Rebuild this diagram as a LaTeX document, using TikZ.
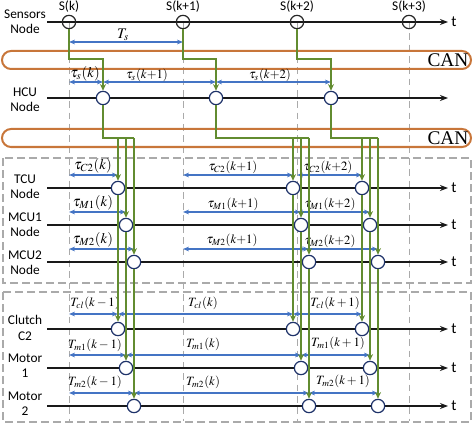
\documentclass[tikz,border=0pt]{standalone}
\usepackage{mathptmx}
\usepackage[no-math]{fontspec}
\setmainfont{Carlito}
\newfontfamily\canfont{Liberation Serif}
\usetikzlibrary{arrows.meta,calc}
\definecolor{canor}{RGB}{200,118,58}
\definecolor{grn}{RGB}{98,140,48}
\definecolor{blu}{RGB}{68,116,196}
\definecolor{navy}{RGB}{30,50,105}
\definecolor{dgrey}{RGB}{170,170,170}
\pgfdeclarelayer{bg}
\pgfsetlayers{bg,main}
\tikzset{
  lab/.style={font=\fontsize{10}{11.5}\selectfont, align=center, inner sep=0pt},
  mlab/.style={font=\fontsize{11}{12}\selectfont, inner sep=0pt},
  smlab/.style={font=\fontsize{9.5}{11}\selectfont, inner sep=0pt},
  cantext/.style={font=\canfont\fontsize{14.5}{15}\selectfont, inner sep=0pt},
  sensc/.style={circle, draw=black!85, line width=0.9pt, minimum size=10pt, inner sep=0pt},
  evc/.style={circle, draw=navy, fill=white, line width=0.9pt, minimum size=10pt, inner sep=0pt},
  busbox/.style={draw=canor, line width=1.5pt, rounded corners=6.75pt, minimum width=351.75pt, minimum height=13.5pt, inner sep=0pt},
  tline/.style={line width=1.1pt, black!90, -{Stealth[length=6pt,width=4.5pt]}},
  dv/.style={dgrey, line width=0.7pt, dash pattern=on 5pt off 3.5pt},
  dbox/.style={dgrey, line width=0.9pt, dash pattern=on 6pt off 3pt},
  bl/.style={blu, line width=0.8pt, {Stealth[length=4.5pt,width=3.5pt]}-{Stealth[length=4.5pt,width=3.5pt]}},
  gr/.style={grn, line width=1.5pt},
  gra/.style={grn, line width=1.5pt, -{Stealth[length=5pt,width=4.5pt]}},
}
\begin{document}
\begin{tikzpicture}[x=0.75pt,y=-0.75pt]
\useasboundingbox (0,0) rectangle (474,424);
% helper coordinates
\coordinate (bus1) at (0,59);
\coordinate (bus2) at (0,138);
\coordinate (bot) at (0,421);
\coordinate (rTs) at (0,42);
\coordinate (rH) at (0,82);
\coordinate (rTC) at (0,175);
\coordinate (rM1) at (0,212);
\coordinate (rM2) at (0,249);
\coordinate (rCl) at (0,314);
\coordinate (rT1) at (0,355);
\coordinate (rT2) at (0,393);
% time line ends
\foreach \n/\y in {sen/22,hcu/98,tcu/188,mcua/225,mcub/262,clu/329,mota/368,motb/406}{
  \coordinate (\n L) at (47,\y);
  \coordinate (\n R) at (448,\y);
}
% CAN buses
\node[busbox] (can1) at (236.5,60) {};
\node[busbox] (can2) at (236.5,138) {};
\node[cantext] (cant1) at (448,60) {CAN};
\node[cantext] (cant2) at (448,138) {CAN};
% event circles
\node[sensc] (s0) at (69,22) {};
\node[sensc] (s1) at (183,22) {};
\node[sensc] (s2) at (297,22) {};
\node[sensc] (s3) at (409,22) {};
\node[evc] (h0) at (103,98) {};
\node[evc] (h1) at (216,98) {};
\node[evc] (h2) at (331,98) {};
\node[evc] (tc0) at (118,188) {};
\node[evc] (tc1) at (293,188) {};
\node[evc] (tc2) at (362,188) {};
\node[evc] (ma0) at (126,225) {};
\node[evc] (ma1) at (301,225) {};
\node[evc] (ma2) at (370,225) {};
\node[evc] (mb0) at (134,262) {};
\node[evc] (mb1) at (309,262) {};
\node[evc] (mb2) at (378,262) {};
\node[evc] (cl0) at (118,329) {};
\node[evc] (cl1) at (293,329) {};
\node[evc] (cl2) at (362,329) {};
\node[evc] (ta0) at (126,368) {};
\node[evc] (ta1) at (301,368) {};
\node[evc] (ta2) at (370,368) {};
\node[evc] (tb0) at (134,406) {};
\node[evc] (tb1) at (309,406) {};
\node[evc] (tb2) at (378,406) {};
% background: dashed boxes, dashed verticals, time lines
\begin{pgfonlayer}{bg}
\draw[dbox] (3,158) rectangle (471,283);
\draw[dbox] (3,292) rectangle (471,422);
\foreach \s in {s0,s1,s2,s3}{\draw[dv] (\s.center) -- (\s |- bot);}
\foreach \n in {sen,hcu,tcu,mcua,mcub,clu,mota,motb}{\draw[tline] (\n L) -- (\n R);}
\end{pgfonlayer}
% t labels
\foreach \n in {sen,tcu,mcua,mcub,clu,mota,motb}{\node[lab, anchor=west, font=\fontsize{11.5}{12}\selectfont] at ($(\n R)+(3,0)$) {t};}
% node labels
\node[lab] (lsen) at (25,22) {Sensors\\Node};
\node[lab] (lhcu) at (25,100) {HCU\\Node};
\node[lab] (ltcu) at (25,187) {TCU\\Node};
\node[lab] (lmcua) at (25,225) {MCU1\\Node};
\node[lab] (lmcub) at (25,263) {MCU2\\Node};
\node[lab] (lclu) at (25,328) {Clutch\\C2};
\node[lab] (lmota) at (25,366) {Motor\\1};
\node[lab] (lmotb) at (25,404) {Motor\\2};
% sample labels
\node[lab] at (69,7) {S(k)};
\node[lab] at (183,7) {S(k+1)};
\node[lab] at (297,7) {S(k+2)};
\node[lab] at (409,7) {S(k+3)};
% blue interval arrows
\draw[bl] (s0 |- rTs) -- (s1 |- rTs);
\node[mlab] at (123,35) {$T_s$};
\draw[bl] (s0 |- rH) -- (h0 |- rH);
\draw[bl] (h0 |- rH) -- (h1 |- rH);
\draw[bl] (h1 |- rH) -- (h2 |- rH);
\node[mlab] at (85,74) {$\tau_s(k)$};
\node[smlab] at (147,75) {$\tau_s(k{+}1)$};
\node[smlab] at (270,75) {$\tau_s(k{+}2)$};
% controllers
\draw[bl] (s0 |- rTC) -- (tc0 |- rTC);
\draw[bl] (s1 |- rTC) -- (tc1 |- rTC);
\draw[bl] (s2 |- rTC) -- (tc2 |- rTC);
\draw[bl] (s0 |- rM1) -- (ma0 |- rM1);
\draw[bl] (s1 |- rM1) -- (ma1 |- rM1);
\draw[bl] (s2 |- rM1) -- (ma2 |- rM1);
\draw[bl] (s0 |- rM2) -- (mb0 |- rM2);
\draw[bl] (s1 |- rM2) -- (mb1 |- rM2);
\draw[bl] (s2 |- rM2) -- (mb2 |- rM2);
\node[mlab] at (93,166) {$\tau_{C2}(k)$};
\node[smlab] at (233,167) {$\tau_{C2}(k{+}1)$};
\node[smlab] at (328,167) {$\tau_{C2}(k{+}2)$};
\node[mlab] at (93,203) {$\tau_{M1}(k)$};
\node[smlab] at (233,204) {$\tau_{M1}(k{+}1)$};
\node[smlab] at (330,204) {$\tau_{M1}(k{+}2)$};
\node[mlab] at (93,240) {$\tau_{M2}(k)$};
\node[smlab] at (232,240) {$\tau_{M2}(k{+}1)$};
\node[smlab] at (330,241) {$\tau_{M2}(k{+}2)$};
% actuators
\draw[bl] (s0 |- rCl) -- (cl0 |- rCl);
\draw[bl] (cl0 |- rCl) -- (cl1 |- rCl);
\draw[bl] (cl1 |- rCl) -- (cl2 |- rCl);
\draw[bl] (s0 |- rT1) -- (ta0 |- rT1);
\draw[bl] (ta0 |- rT1) -- (ta1 |- rT1);
\draw[bl] (ta1 |- rT1) -- (ta2 |- rT1);
\draw[bl] (s0 |- rT2) -- (tb0 |- rT2);
\draw[bl] (tb0 |- rT2) -- (tb1 |- rT2);
\draw[bl] (tb1 |- rT2) -- (tb2 |- rT2);
\node[smlab] at (95,303) {$T_{cl}(k-1)$};
\node[smlab] at (203,303) {$T_{cl}(k)$};
\node[smlab] at (335,303) {$T_{cl}(k+1)$};
\node[smlab] at (95,345) {$T_{m1}(k-1)$};
\node[smlab] at (203,344) {$T_{m1}(k)$};
\node[smlab] at (338,343) {$T_{m1}(k+1)$};
\node[smlab] at (95,382) {$T_{m2}(k-1)$};
\node[smlab] at (203,382) {$T_{m2}(k)$};
\node[smlab] at (343,381) {$T_{m2}(k+1)$};
% green message paths: sensors -> HCU
\draw[gra] (s0.south) -- (s0.south |- bus1) -| (h0.north);
\draw[gra] (s1.south) -- (s1.south |- bus1) -| (h1.north);
\draw[gra] (s2.south) -- (s2.south |- bus1) -| (h2.north);
% HCU -> controllers -> actuators
\draw[gr] (h0.south) -- (h0.south |- bus2) -- (mb0 |- bus2);
\draw[gr] (h1.south) -- (h1.south |- bus2) -- (mb1 |- bus2);
\draw[gr] (h2.south) -- (h2.south |- bus2) -- (mb2 |- bus2);
\foreach \i in {0,1,2}{
  \draw[gra] (tc\i |- bus2) -- (tc\i.north);
  \draw[gra] (tc\i.south) -- (cl\i.north);
  \draw[gra] (ma\i |- bus2) -- (ma\i.north);
  \draw[gra] (ma\i.south) -- (ta\i.north);
  \draw[gra] (mb\i |- bus2) -- (mb\i.north);
  \draw[gra] (mb\i.south) -- (tb\i.north);
}
\end{tikzpicture}
\end{document}
